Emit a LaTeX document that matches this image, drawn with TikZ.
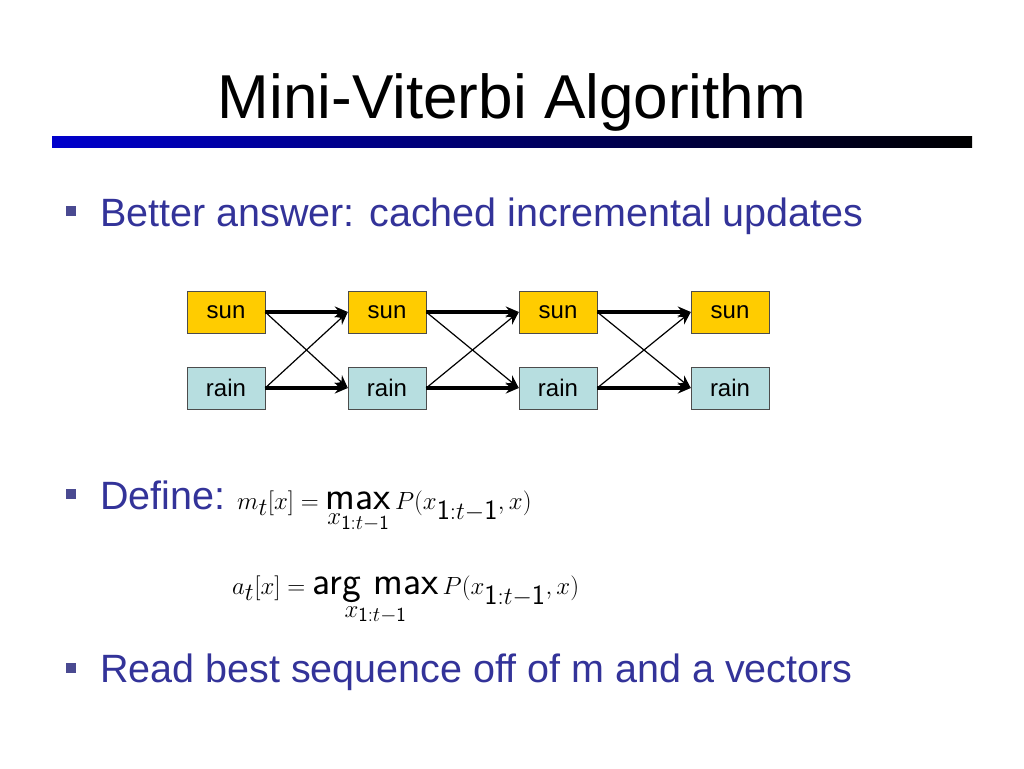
\documentclass[tikz,border=0pt]{standalone}
\usepackage{fontspec}
\usepackage{amsmath}
\setmainfont{Liberation Sans}
\usetikzlibrary{arrows.meta}
\definecolor{txt}{HTML}{333399}
\definecolor{sunc}{HTML}{FFCC00}
\definecolor{rainc}{HTML}{B7DEE0}
\tikzset{
 box/.style={draw=black!70, minimum width=78pt, minimum height=42pt, font=\fontsize{24}{28}\selectfont, inner sep=0pt},
 sunbox/.style={box, fill=sunc},
 rainbox/.style={box, fill=rainc},
 thick arr/.style={line width=3.2pt, -{Stealth[length=13pt,width=11pt]}},
 thin arr/.style={line width=1.2pt, -{Stealth[length=13pt,width=11pt]}},
 bul/.style={fill=txt!70!gray, minimum size=10pt, inner sep=0pt},
 btext/.style={anchor=base west, text=txt, font=\fontsize{39.5}{46}\selectfont, inner sep=0pt},
 mathtext/.style={anchor=base west, inner sep=0pt, font=\fontsize{40}{46}\selectfont}
}
\begin{document}
\begin{tikzpicture}[x=1pt,y=-1pt]
\useasboundingbox (0,0) rectangle (1024,768);
\node[font=\fontsize{62}{70}\selectfont, anchor=base, inner sep=0pt] (title) at (512,118) {Mini-Viterbi Algorithm};
\shade[left color=blue!80!black, right color=black] (52,136) rectangle (972,147);
\node[bul] (b1) at (71,211) {};
\node[btext] (t1) at (100,226) {Better answer: cached incremental updates};
\foreach \i/\x in {1/226,2/387,3/558,4/730}{
 \node[sunbox] (s\i) at (\x,312) {sun};
 \node[rainbox] (r\i) at (\x,388) {rain};
}
\foreach \a/\b in {1/2,2/3,3/4}{
 \draw[thick arr] (s\a) -- (s\b);
 \draw[thick arr] (r\a) -- (r\b);
 \draw[thin arr] (s\a.east) -- (r\b.west);
 \draw[thin arr] (r\a.east) -- (s\b.west);
}
\node[bul] (b2) at (71,494) {};
\node[btext] (t2) at (100,509) {Define:};
\node[mathtext] (m1) at (237,509)
 {$m_t[x] = \underset{x_{\mathsf{1}:t-\mathsf{1}}}{\textsf{max}}\, P(x_{\mathsf{1}:t-\mathsf{1}}, x)$};
\node[mathtext] (m2) at (232,594)
 {$a_t[x] = \underset{x_{\mathsf{1}:t-\mathsf{1}}}{\textsf{arg max}}\, P(x_{\mathsf{1}:t-\mathsf{1}}, x)$};
\node[bul] (b3) at (71,668) {};
\node[btext] (t3) at (100,682) {Read best sequence off of m and a vectors};
\end{tikzpicture}
\end{document}
